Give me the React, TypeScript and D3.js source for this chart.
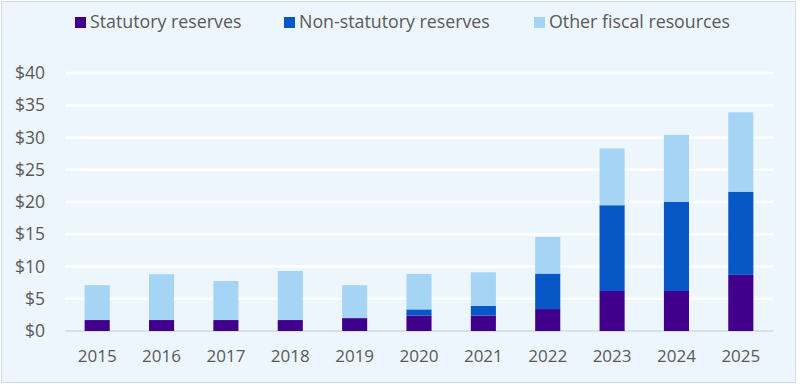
import React, { useEffect, useRef } from 'react'
import { select, scaleLinear, scaleBand, stack, axisLeft, axisBottom } from 'd3'

const years = ['2015', '2016', '2017', '2018', '2019', '2020', '2021', '2022', '2023', '2024', '2025']
const statutory = [1.7, 1.7, 1.7, 1.7, 2.0, 2.4, 2.4, 3.4, 6.2, 6.2, 8.7]
const nonStatutory = [0, 0, 0, 0, 0, 0.95, 1.5, 5.5, 13.3, 13.8, 12.9]
const otherFiscal = [5.4, 7.1, 6.05, 7.6, 5.1, 5.5, 5.2, 5.7, 8.8, 10.4, 12.3]
const seriesNames = ['Statutory reserves', 'Non-statutory reserves', 'Other fiscal resources']
const seriesColors = ['#41008C', '#0757C6', '#A6D4F4']
const yTicks = [0, 5, 10, 15, 20, 25, 30, 35, 40]

function App() {
  const ref = useRef(null)

  useEffect(() => {
    document.body.style.margin = '0'
    const width = 800, height = 386
    const margin = { top: 73, right: 27, bottom: 55, left: 65 }

    const svg = select(ref.current)
      .attr('width', width)
      .attr('height', height)
      .style('font-family', '"Open Sans", sans-serif')
    svg.selectAll('*').remove()

    svg.append('rect')
      .attr('x', 1.5).attr('y', 1.5)
      .attr('width', width - 6).attr('height', height - 5)
      .attr('fill', '#EEF6FD')
      .attr('stroke', '#D5DBE1')

    const rows = years.map((y, i) => ({
      year: y, s: statutory[i], n: nonStatutory[i], o: otherFiscal[i]
    }))
    const layers = stack().keys(['s', 'n', 'o'])(rows)

    const x = scaleBand()
      .domain(years)
      .range([margin.left, width - margin.right])
      .paddingInner(0.61)
      .paddingOuter(0.305)

    const y = scaleLinear()
      .domain([0, 40])
      .range([height - margin.bottom, margin.top])

    // gridlines
    svg.append('g')
      .selectAll('line')
      .data(yTicks.filter(t => t > 0))
      .enter()
      .append('line')
      .attr('x1', margin.left)
      .attr('x2', width - margin.right)
      .attr('y1', d => y(d))
      .attr('y2', d => y(d))
      .style('stroke', '#FFFFFF')
      .style('stroke-width', 2.5)

    svg.append('line')
      .attr('x1', margin.left)
      .attr('x2', width - margin.right)
      .attr('y1', y(0))
      .attr('y2', y(0))
      .style('stroke', '#D3D9DF')
      .style('stroke-width', 1.5)

    layers.forEach((layer, li) => {
      svg.append('g')
        .selectAll('rect')
        .data(layer)
        .enter()
        .append('rect')
        .attr('x', d => x(d.data.year))
        .attr('width', x.bandwidth())
        .attr('y', d => y(d[1]))
        .attr('height', d => y(d[0]) - y(d[1]))
        .attr('fill', seriesColors[li])
    })

    const yAxis = svg.append('g')
      .attr('transform', `translate(${margin.left}, 0)`)
      .call(axisLeft(y).tickValues(yTicks).tickFormat(d => '$' + d).tickSize(0).tickPadding(20))
    yAxis.select('.domain').remove()
    yAxis.selectAll('text')
      .style('font-size', '17.5px')
      .style('fill', '#595959')
      .style('font-family', '"Open Sans", sans-serif')

    const xAxis = svg.append('g')
      .attr('transform', `translate(0, ${y(0)})`)
      .call(axisBottom(x).tickSize(0).tickPadding(19))
    xAxis.select('.domain').remove()
    xAxis.selectAll('text')
      .style('font-size', '17px')
      .style('fill', '#595959')
      .style('font-family', '"Open Sans", sans-serif')

    // legend
    const legendX = [75, 284, 534]
    const legend = svg.append('g')
    seriesNames.forEach((name, i) => {
      legend.append('rect')
        .attr('x', legendX[i]).attr('y', 17)
        .attr('width', 11).attr('height', 11)
        .attr('fill', seriesColors[i])
      legend.append('text')
        .attr('x', legendX[i] + 15)
        .attr('y', 28)
        .style('font-size', '17.8px')
        .style('fill', '#595959')
        .text(name)
    })
  }, [])

  return (
    <svg ref={ref} style={{ display: 'block' }}></svg>
  )
}

export default App
